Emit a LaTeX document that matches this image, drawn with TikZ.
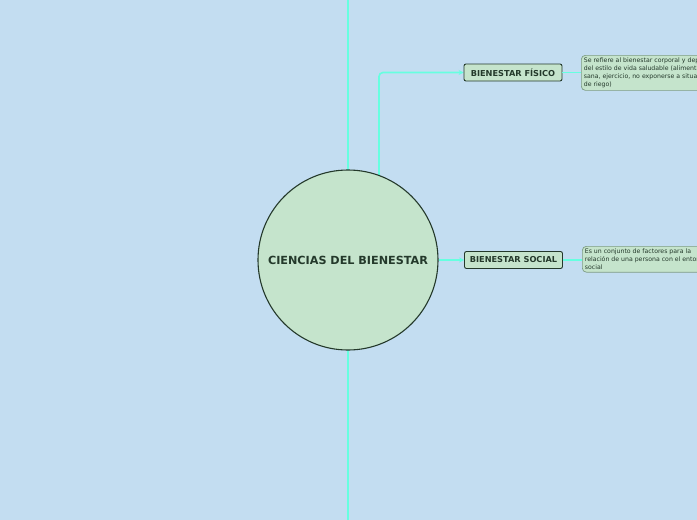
\documentclass[tikz,border=0pt]{standalone}
\usepackage{fontspec}
\setmainfont{DejaVu Sans}
\usepackage{tikz}
\usetikzlibrary{positioning}
\usetikzlibrary{arrows.meta}
\usetikzlibrary{backgrounds}

\definecolor{sky}{HTML}{C3DDF1}
\definecolor{leaf}{HTML}{C5E4CC}
\definecolor{ink}{HTML}{24392B}
\definecolor{aqua}{HTML}{66FFE0}
\definecolor{noteline}{HTML}{7E9C84}

\pgfdeclarelayer{canvas}
\pgfsetlayers{canvas,background,main}

\tikzset{
  mainidea/.style={circle, draw=ink, line width=1.1pt, fill=leaf,
    minimum size=180, inner sep=0pt, text=ink,
    font=\fontsize{11.2}{13}\selectfont\bfseries},
  topicbox/.style={draw=ink, line width=0.9pt, fill=leaf, rounded corners=2pt,
    minimum width=98, minimum height=17, inner sep=0pt, text=ink,
    font=\fontsize{8.2}{9}\selectfont\bfseries},
  notebox/.style={draw=noteline, line width=0.7pt, fill=leaf, rounded corners=4pt,
    anchor=north west, align=left, inner xsep=2.5pt, inner ysep=2.5pt, text=ink,
    font=\fontsize{6.2}{8}\selectfont},
  link/.style={draw=aqua, line width=1.6pt, rounded corners=4pt},
}

\begin{document}
\begin{tikzpicture}[x=1pt,y=-1pt,>={Stealth[length=5pt,width=5pt]}]
  \useasboundingbox (0,0) rectangle (697,520);
  \begin{pgfonlayer}{canvas}
    \fill[sky] (0,0) rectangle (697,520);
  \end{pgfonlayer}

  \coordinate (axistop) at (348,0);
  \coordinate (axisbot) at (348,520);
  \draw[link] (axistop) -- (axisbot);

  \node[mainidea] (ciencias) at (348,260) {CIENCIAS DEL BIENESTAR};

  \node[topicbox] (fisico) at (513,72.5) {BIENESTAR FÍSICO};
  \node[topicbox] (social) at (513.5,260) {BIENESTAR SOCIAL};

  \node[notebox] (notafis) at (581,55)
    {Se refiere al bienestar corporal y depende\\
     del estilo de vida saludable (alimentación\\
     sana, ejercicio, no exponerse a situaciones\\
     de riego)};
  \node[notebox] (notasoc) at (582,246)
    {Es un conjunto de factores para la\\
     relación de una persona con el entorno\\
     social};

  \begin{scope}[on background layer]
    \draw[link,->] (ciencias.70) |- (fisico.west);
  \end{scope}
  \draw[link,->] (ciencias.east) -- (social.west);
  \draw[link] (fisico.east) -- (notafis.west |- fisico.east);
  \draw[link] (social.east) -- (notasoc.west |- social.east);
\end{tikzpicture}
\end{document}
